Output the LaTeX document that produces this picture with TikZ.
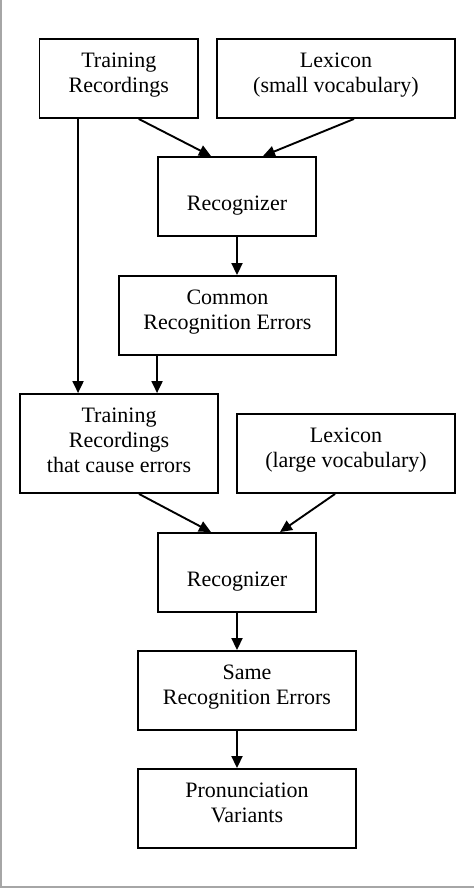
\documentclass[tikz,border=0pt]{standalone}
\usepackage{fontspec}
\setmainfont{Liberation Serif}
\usetikzlibrary{arrows.meta}
\tikzset{
  box/.style={draw, line width=1.9pt, inner sep=0pt, minimum height=79pt},
  txt/.style={anchor=north, inner sep=0pt, align=center, font=\fontsize{22}{25.3}\selectfont},
  arr/.style={line width=1.9pt, -{Triangle[length=12pt,width=11pt]}},
  frame/.style={fill=black!35, draw=none}
}
\begin{document}
\begin{tikzpicture}[x=1pt,y=-1pt]
\useasboundingbox (0,0) rectangle (474,888);
\fill[frame] (0,0) rectangle (1.6,888);
\fill[frame] (0,886) rectangle (474,888);
% boxes
\node[box, minimum width=158.5pt] (tr) at (118.75,78.5) {};
\node[box, minimum width=238pt] (lexs) at (336,78.5) {};
\node[box, minimum width=158pt] (rec1) at (237,196.5) {};
\node[box, minimum width=217pt] (com) at (227.5,315.5) {};
\node[box, minimum width=198pt, minimum height=99pt] (tre) at (119,443.5) {};
\node[box, minimum width=218pt] (lexl) at (346,453.5) {};
\node[box, minimum width=158pt] (rec2) at (237,572.5) {};
\node[box, minimum width=218pt] (same) at (247,690.5) {};
\node[box, minimum width=218pt] (pron) at (247,808.5) {};
% texts
\node[txt] (trt) at ([yshift=-11.3pt]tr.north) {\strut Training\\Recordings};
\node[txt] (lexst) at ([yshift=-11.3pt]lexs.north) {\strut Lexicon\\(small vocabulary)};
\node[txt] (rec1t) at ([yshift=-11.3pt]rec1.north) {\strut\\Recognizer};
\node[txt] (comt) at ([yshift=-11.3pt]com.north) {\strut Common\\Recognition Errors};
\node[txt] (tret) at ([yshift=-11.3pt]tre.north) {\strut Training\\Recordings\\that cause errors};
\node[txt] (lexlt) at ([yshift=-11.3pt]lexl.north) {\strut Lexicon\\(large vocabulary)};
\node[txt] (rec2t) at ([yshift=-11.3pt]rec2.north) {\strut\\Recognizer};
\node[txt] (samet) at ([yshift=-11.3pt]same.north) {\strut Same\\Recognition Errors};
\node[txt] (pront) at ([yshift=-11.3pt]pron.north) {\strut Pronunciation\\Variants};
% connectors
\draw[arr] ([xshift=20pt]tr.south) -- ([xshift=-26pt]rec1.north);
\draw[arr] ([xshift=18pt]lexs.south) -- ([xshift=26pt]rec1.north);
\draw[arr] (rec1.south) -- (rec1.south |- com.north);
\draw[arr] ([xshift=39.5pt]tr.south west) -- ([xshift=39.5pt]tr.south west |- tre.north);
\draw[arr] ([xshift=39pt]com.south west) -- ([xshift=39pt]com.south west |- tre.north);
\draw[arr] ([xshift=20pt]tre.south) -- ([xshift=-26pt]rec2.north);
\draw[arr] ([xshift=-11pt]lexl.south) -- ([xshift=43pt]rec2.north);
\draw[arr] (rec2.south) -- (rec2.south |- same.north);
\draw[arr] (same.south -| rec2.south) -- (rec2.south |- pron.north);
\end{tikzpicture}
\end{document}
